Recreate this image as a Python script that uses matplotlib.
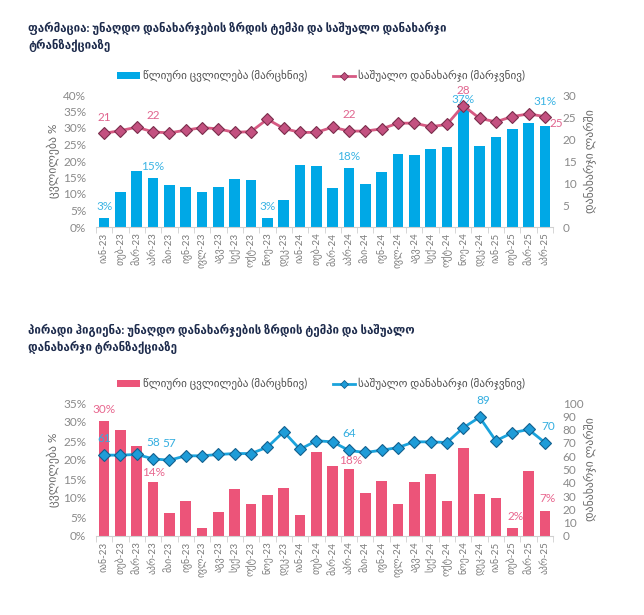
import matplotlib
matplotlib.use("Agg")
import matplotlib.pyplot as plt
from matplotlib.lines import Line2D
from matplotlib.patches import Patch

plt.rcParams['font.family'] = ['Lato', 'DejaVu Sans']

months = ["იან-23", "თებ-23", "მარ-23", "აპრ-23", "მაი-23", "ივნ-23", "ივლ-23",
          "აგვ-23", "სექ-23", "ოქტ-23", "ნოე-23", "დეკ-23",
          "იან-24", "თებ-24", "მარ-24", "აპრ-24", "მაი-24", "ივნ-24", "ივლ-24",
          "აგვ-24", "სექ-24", "ოქტ-24", "ნოე-24", "დეკ-24",
          "იან-25", "თებ-25", "მარ-25", "აპრ-25"]

# ფარმაცია
pharma_yoy = [2.8, 10.5, 17.1, 15.0, 12.7, 12.0, 10.6, 12.0, 14.6, 14.3, 2.6, 8.3,
              18.7, 18.4, 11.7, 17.8, 12.9, 16.6, 22.1, 21.8, 23.7, 24.1, 37.2, 24.6,
              27.2, 29.6, 31.4, 30.6]
pharma_avg = [21.3, 21.9, 22.7, 21.6, 21.4, 22.0, 22.6, 22.3, 21.5, 21.7, 24.5, 22.4,
              21.5, 21.5, 22.7, 21.8, 21.8, 22.3, 23.6, 23.6, 22.8, 23.3, 27.6, 24.7,
              23.9, 25.1, 25.7, 25.1]

# პირადი ჰიგიენა
hyg_yoy = [30.2, 27.9, 23.7, 14.2, 6.1, 9.2, 2.2, 6.3, 12.4, 8.4, 10.7, 12.7,
           5.5, 22.2, 18.4, 17.6, 11.3, 14.6, 8.4, 14.2, 16.4, 9.3, 23.2, 11.1,
           9.9, 2.1, 17.2, 6.6]
hyg_avg = [60.8, 60.8, 61.3, 58.0, 57.0, 60.3, 60.3, 61.3, 62.0, 62.0, 66.8, 78.4,
           65.2, 71.6, 70.8, 64.3, 62.8, 64.5, 66.5, 70.8, 70.8, 70.3, 81.4, 89.3,
           71.6, 77.6, 80.1, 70.3]

W, H = 644, 615
TITLE_C = "#1d2b4c"
TICK_C = "#8a8a8a"


def px_rect(left, top, right, bottom):
    return [left / W, 1 - bottom / H, (right - left) / W, (bottom - top) / H]


def draw_panel(fig, rect, yoy, avg, bar_c, line_c, mk_face, mk_edge, bar_lab_c, line_lab_c,
               ymax, ystep, rmax, rstep, bar_labels, line_labels, legend_y):
    ax = fig.add_axes(rect)
    x = list(range(len(months)))
    ax.bar(x, yoy, width=0.65, color=bar_c, zorder=2)
    ax.set_xlim(-0.5, len(months) - 0.5)
    ax.set_ylim(0, ymax)
    ax.set_yticks(range(0, ymax + 1, ystep))
    ax.set_yticklabels([f"{v}%" for v in range(0, ymax + 1, ystep)])
    ax.set_xticks(x)
    ax.set_xticklabels(months, rotation=90, fontsize=7, color="#7a7a7a")
    ax.set_xticks([i - 0.5 for i in range(len(months) + 1)], minor=True)
    ax.tick_params(axis="x", which="major", length=0, pad=4)
    ax.tick_params(axis="x", which="minor", length=4, color="#d0d0d0")
    ax.tick_params(axis="y", length=0, pad=7, labelsize=8.5, labelcolor=TICK_C)
    for s in ["top", "left", "right"]:
        ax.spines[s].set_visible(False)
    ax.spines["bottom"].set_color("#d0d0d0")
    ax.set_ylabel("ცვლილება %", fontsize=8.5, color="#6a6a6a")
    ax.yaxis.set_label_coords(-0.078, 0.5)

    ax2 = ax.twinx()
    ax2.plot(x, avg, color=line_c, lw=2, marker="D", ms=6.5,
             markerfacecolor=mk_face, markeredgecolor=mk_edge, markeredgewidth=0.8, zorder=3)
    ax2.set_ylim(0, rmax)
    ax2.set_yticks(range(0, rmax + 1, rstep))
    ax2.tick_params(axis="y", length=0, pad=7, labelsize=8.5, labelcolor=TICK_C)
    for s in ["top", "left", "right", "bottom"]:
        ax2.spines[s].set_visible(False)
    ax2.set_ylabel("დანახარჯი ლარში", fontsize=8.5, color="#6a6a6a", rotation=90)
    ax2.yaxis.set_label_coords(1.068, 0.5)

    # bar labels go on the twin axes so they sit above the line
    for i, dx, dy in bar_labels:
        ax2.annotate(f"{round(yoy[i])}%", (i, yoy[i]), xycoords=ax.transData,
                     xytext=(dx, dy), textcoords="offset pixels",
                     ha="center", va="center", fontsize=8.5, color=bar_lab_c, zorder=5)
    for i, dx, dy in line_labels:
        ax2.annotate(f"{round(avg[i])}", (i, avg[i]), xytext=(dx, dy), textcoords="offset pixels",
                     ha="center", va="center", fontsize=8.5, color=line_lab_c, zorder=5)

    handles = [Patch(facecolor=bar_c, edgecolor="none"),
               Line2D([], [], color=line_c, lw=2, marker="D", ms=4,
                      markerfacecolor=mk_face, markeredgecolor=mk_edge, markeredgewidth=0.6)]
    fig.legend(handles, ["წლიური ცვლილება (მარცხნივ)", "საშუალო დანახარჯი (მარჯვნივ)"],
               loc="center", bbox_to_anchor=(0.499, 1 - legend_y / H), ncol=2, frameon=False,
               fontsize=8, handlelength=2.0, handleheight=0.6, handletextpad=0.3,
               columnspacing=2.3, labelcolor="#505050")
    return ax, ax2


fig = plt.figure(figsize=(W / 100, H / 100), dpi=100)

fig.text(28 / W, 1 - 22 / H,
         "ფარმაცია: უნაღდო დანახარჯების ზრდის ტემპი და საშუალო დანახარჯი\nტრანზაქციაზე",
         ha="left", va="top", fontsize=8.3, fontweight="bold", color=TITLE_C, linespacing=1.3)
draw_panel(fig, px_rect(96, 95, 553, 227), pharma_yoy, pharma_avg,
           "#00a8e6", "#d65a83", "#c35180", "#7a2d4c", "#3cb4e4", "#e0658f",
           40, 5, 30, 5,
           bar_labels=[(0, 0, 11.5), (3, 0, 11.5), (10, 0, 11.5), (15, 0, 11.5), (22, 0, 4.5), (27, 0, 25)],
           line_labels=[(0, 0, 16), (3, 0, 16), (15, 0, 16.5), (22, 0, 15), (27, 11, -7)],
           legend_y=76)

fig.text(28 / W, 1 - 324 / H,
         "პირადი ჰიგიენა: უნაღდო დანახარჯების ზრდის ტემპი და საშუალო\nდანახარჯი ტრანზაქციაზე",
         ha="left", va="top", fontsize=8.3, fontweight="bold", color=TITLE_C, linespacing=1.3)
draw_panel(fig, px_rect(96, 403, 553, 536), hyg_yoy, hyg_avg,
           "#ec5479", "#1ba3dc", "#1e9cd8", "#12608f", "#e8678f", "#33aee0",
           35, 5, 100, 10,
           bar_labels=[(0, 0, 11.5), (3, 0, 9.5), (15, 2, 9), (25, 3.5, 12), (27, 3, 12.5)],
           line_labels=[(0, 0, 16.5), (3, 0, 16.5), (4, 0, 17), (15, 0, 16.5), (23, 3.5, 16.5), (27, 3, 16.5)],
           legend_y=384)

fig.savefig("out.png", dpi=100)
